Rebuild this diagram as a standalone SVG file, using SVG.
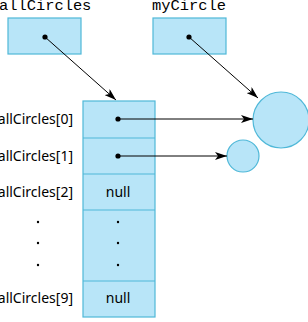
<svg xmlns="http://www.w3.org/2000/svg" width="308" height="322" viewBox="0 0 308 322">
<style>
.box{fill:#b8e5f8;stroke:#4fb8d8;stroke-width:1.2}
.mono{font-family:"Liberation Mono","DejaVu Sans Mono",monospace;font-size:15.4px;fill:#000}
.lab{font-family:"Noto Sans","Open Sans",sans-serif;font-size:14px;fill:#000;text-anchor:end}
.cell{font-family:"Noto Sans","Open Sans",sans-serif;font-size:14px;fill:#000;text-anchor:middle}
.ln{stroke:#000;stroke-width:1;fill:none}
</style>
<defs>
<marker id="ah" viewBox="0 0 12 8" refX="12" refY="4" markerWidth="12" markerHeight="8" markerUnits="userSpaceOnUse" orient="auto">
<path d="M0,0 L12,4 L0,8 L3,4 Z" fill="#000"/>
</marker>
</defs>
<g id="allCircles">
<text class="mono" x="-1" y="10">allCircles</text>
<rect class="box" x="8" y="18" width="73" height="36"/>
<circle cx="45" cy="37" r="2.6"/>
</g>
<g id="myCircle">
<text class="mono" x="152" y="10">myCircle</text>
<rect class="box" x="153" y="18" width="73" height="36"/>
<circle cx="189" cy="37" r="2.6"/>
</g>
<g id="array">
<rect class="box" x="83" y="101" width="72" height="216"/>
<line class="box" x1="83" y1="138" x2="155" y2="138"/>
<line class="box" x1="83" y1="174" x2="155" y2="174"/>
<line class="box" x1="83" y1="210" x2="155" y2="210"/>
<line class="box" x1="83" y1="281" x2="155" y2="281"/>
<circle cx="118" cy="119" r="2.6"/>
<circle cx="118" cy="156" r="2.6"/>
<text class="cell" x="118" y="197">null</text>
<circle cx="118" cy="222" r="1.2"/>
<circle cx="118" cy="243" r="1.2"/>
<circle cx="118" cy="265" r="1.2"/>
<text class="cell" x="118" y="303">null</text>
</g>
<g id="labels">
<text class="lab" x="73" y="124">allCircles[0]</text>
<text class="lab" x="73" y="161">allCircles[1]</text>
<text class="lab" x="73" y="197">allCircles[2]</text>
<circle cx="38" cy="222" r="1.2"/>
<circle cx="38" cy="243" r="1.2"/>
<circle cx="38" cy="265" r="1.2"/>
<text class="lab" x="73" y="303">allCircles[9]</text>
</g>
<g id="bigCircle">
<circle class="box" cx="281" cy="120" r="28"/>
</g>
<g id="smallCircle">
<circle class="box" cx="243" cy="156" r="16"/>
</g>
<g id="connectors">
<line class="ln" x1="45" y1="37" x2="116" y2="100" marker-end="url(#ah)"/>
<line class="ln" x1="189" y1="37" x2="258" y2="98" marker-end="url(#ah)"/>
<line class="ln" x1="118" y1="119" x2="253" y2="119" marker-end="url(#ah)"/>
<line class="ln" x1="118" y1="156" x2="227" y2="156" marker-end="url(#ah)"/>
</g>
</svg>
